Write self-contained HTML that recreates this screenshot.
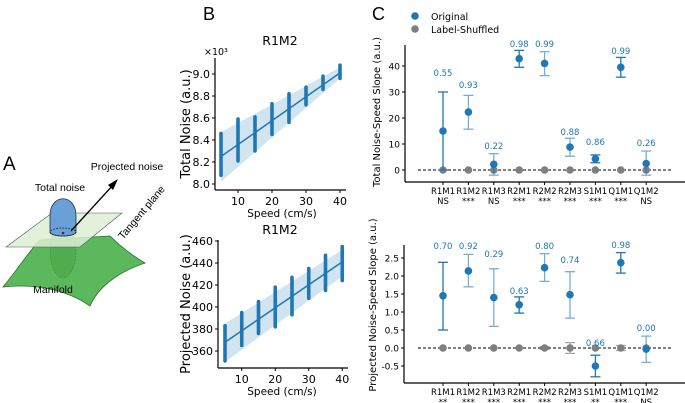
<!DOCTYPE html>
<html><head><meta charset="utf-8"><style>
body{margin:0;background:#fff}
svg{display:block;font-family:"DejaVu Sans","Liberation Sans",sans-serif}
</style></head><body>
<svg id="fig" width="685" height="403" viewBox="0 0 685 403" xmlns="http://www.w3.org/2000/svg">
<!-- Panel A -->
<g font-family="Liberation Sans, sans-serif">
<text x="3" y="170" font-size="19">A</text>
<path d="M3,287 C20,266 30,250 40,240 L110,236 C120,246 133,256 145,263 C118,272 98,287 90,306 C70,292 40,283 3,287 Z" fill="#5cb85c" stroke="#2d6a2d" stroke-width="0.8"/>
<ellipse cx="63" cy="250" rx="13" ry="28" fill="#4aa84a" stroke="#2d6a2d" stroke-width="0.5" stroke-dasharray="2,1" opacity="0.7"/>
<polygon points="52,213 122,213 80,247 6,247" fill="#dcefd3" fill-opacity="0.85" stroke="#555" stroke-width="0.6"/>
<path d="M50,232 L50,216 C50,193 76,193 76,216 L76,232 A13,4 0 0 1 50,232 Z" fill="#6a9fd8" stroke="#234" stroke-width="0.8"/>
<ellipse cx="63" cy="232" rx="13" ry="4" fill="none" stroke="#111" stroke-width="0.8" stroke-dasharray="1.5,1.5"/>
<circle cx="63" cy="233" r="1.3" fill="#333"/>
<line x1="71" y1="231" x2="114" y2="184" stroke="#000" stroke-width="1.3"/>
<polygon points="118,179 108,185 113,190" fill="#000"/>
<text x="60" y="191" font-size="10.5" text-anchor="middle">Total noise</text>
<text x="127" y="170" font-size="10.5" text-anchor="middle">Projected noise</text>
<text x="0" y="0" font-size="10.5" transform="translate(123,240) rotate(-50)">Tangent plane</text>
<text x="53" y="293" font-size="10.5" text-anchor="middle">Manifold</text>
</g>
<text x="203" y="20" font-size="18" font-family="Liberation Sans, sans-serif">B</text>
<text x="372" y="20" font-size="18" font-family="Liberation Sans, sans-serif">C</text>
<g id="gB1"></g>
<g id="gB2"></g>
<g id="gC1"></g>
<g id="gC2"></g>
</svg>
<script>
const NS="http://www.w3.org/2000/svg";
function mk(parent,tag,attrs,text){const e=document.createElementNS(NS,tag);for(const k in attrs)e.setAttribute(k,attrs[k]);if(text!==undefined)e.textContent=text;parent.appendChild(e);return e;}
const BLUE="#1f77b4", GRAY="#7f7f7f";

// ---- Panel B data ----
const speeds=[5,10,15,20,25,30,35,40];
const totalMin=[8.08,8.21,8.30,8.45,8.56,8.72,8.86,8.96];
const totalMax=[8.46,8.59,8.61,8.73,8.82,8.88,8.98,9.08];
const totalFit=[8.25,9.01];
const totalBandLow=[8.02,8.96];
const totalBandHigh=[8.47,9.06];
const totalTicks=[8.0,8.2,8.4,8.6,8.8,9.0];
const projMin=[351,365,376,382,393,408,415,424];
const projMax=[383,395,405,418,427,435,447,455];
const projFit=[368,441];
const projBandLow=[350,428];
const projBandHigh=[385,452];
const projTicks=[360,380,400,420,440,460];
const speedTicks=[10,20,30,40];

function scatterPanel(g,cfg){
  const xs=v=>cfg.x0+(v-5)*cfg.xk;
  const ys=v=>cfg.y0-(v-cfg.v0)*cfg.yk;
  const sx=speeds[0], ex=speeds[speeds.length-1];
  let band=mk(g,'polygon',{points:`${xs(sx)},${ys(cfg.bl[0])} ${xs(ex)},${ys(cfg.bl[1])} ${xs(ex)},${ys(cfg.bh[1])} ${xs(sx)},${ys(cfg.bh[0])}`,fill:BLUE,'fill-opacity':0.2});
  
  
  speeds.forEach((s,i)=>{
    const r=mk(g,'rect',{x:xs(s)-1.8,y:ys(cfg.mx[i])-1.8,width:3.6,height:ys(cfg.mn[i])-ys(cfg.mx[i])+3.6,rx:1.8,fill:BLUE});
    
    
  });
  const fl=mk(g,'line',{x1:xs(sx),y1:ys(cfg.fit[0]),x2:xs(ex),y2:ys(cfg.fit[1]),stroke:BLUE,'stroke-width':1.5});
  
  
  mk(g,'line',{x1:cfg.sl,y1:cfg.st,x2:cfg.sl,y2:cfg.sb,stroke:'#000','stroke-width':1.2});
  mk(g,'line',{x1:cfg.sl,y1:cfg.sb,x2:cfg.sr,y2:cfg.sb,stroke:'#000','stroke-width':1.2});
  cfg.ticks.forEach(t=>{const y=ys(t);mk(g,'line',{x1:cfg.sl-3,y1:y,x2:cfg.sl,y2:y,stroke:'#000'});
    const tx=mk(g,'text',{x:cfg.sl-5,y:y+4,'font-size':11,'text-anchor':'end'},cfg.fmt(t));
    
    });
  speedTicks.forEach(t=>{const x=xs(t);mk(g,'line',{x1:x,y1:cfg.sb,x2:x,y2:cfg.sb+3,stroke:'#000'});
    const tx=mk(g,'text',{x:x,y:cfg.sb+15,'font-size':11,'text-anchor':'middle'},t);
    
    });
  const ti=mk(g,'text',{x:280,y:cfg.ty,'font-size':12.5,'text-anchor':'middle'},'R1M2');
  
  
  const xl=mk(g,'text',{x:282,y:cfg.sb+27,'font-size':10.5,'text-anchor':'middle'},'Speed (cm/s)');
  
  
  const yl=mk(g,'text',{x:0,y:0,'font-size':13,'text-anchor':'middle',transform:`translate(${cfg.ylx},${(cfg.st+cfg.sb)/2}) rotate(-90)`},cfg.ylabel);
  
  
}
scatterPanel(document.getElementById('gB1'),{x0:221,xk:3.4,y0:184,v0:8.0,yk:110,mn:totalMin,mx:totalMax,fit:totalFit,bl:totalBandLow,bh:totalBandHigh,ticks:totalTicks,fmt:t=>t.toFixed(1),sl:215,sr:346,st:58,sb:190,ty:45,ylx:190,ylabel:'Total Noise (a.u.)'});
scatterPanel(document.getElementById('gB2'),{x0:225,xk:3.35,y0:351,v0:360,yk:1.1,mn:projMin,mx:projMax,fit:projFit,bl:projBandLow,bh:projBandHigh,ticks:projTicks,fmt:t=>t,sl:218,sr:348,st:240,sb:368,ty:234,ylx:190,ylabel:'Projected Noise (a.u.)'});
const sci=mk(document.getElementById('gB1'),'text',{x:204,y:55,'font-size':9.5},'×10³');



// ---- Panel C data ----
const cats=['R1M1','R1M2','R1M3','R2M1','R2M2','R2M3','S1M1','Q1M1','Q1M2'];
const totMean=[15,22.3,2.2,42.8,41,8.8,4.3,39.5,2.5];
const totLo=[0,15.7,-2,39.5,36.3,5.3,2.8,35.7,-2];
const totHi=[30,28.7,6.3,46,45.5,12.2,5.8,43.3,7.3];
const totR=['0.55','0.93','0.22','0.98','0.99','0.88','0.86','0.99','0.26'];
const totRY=[37.3,32.7,9.2,48.5,48.5,14.6,10.8,45.8,10.4];
const totSig=['NS','***','NS','***','***','***','***','***','NS'];
const totShufMean=[0,0,0,0,0,0,0,0,0];
const totShufErr=[0,0,0,0,0,0,0,0,0];
const totTicks=[0,10,20,30,40];
const projMean=[1.45,2.14,1.4,1.2,2.23,1.48,-0.5,2.37,-0.03];
const projLo=[0.5,1.7,0.6,0.97,1.85,0.83,-0.8,2.08,-0.4];
const projHi=[2.38,2.6,2.2,1.42,2.62,2.12,-0.2,2.65,0.33];
const projR=['0.70','0.92','0.29','0.63','0.80','0.74','0.66','0.98','0.00'];
const projRY=[2.83,2.83,2.61,1.58,2.83,2.44,0.14,2.86,0.56];
const projSig=['**','***','***','***','***','***','**','***','NS'];
const projShufMean=[0,0,0,0,0,0,0,0,0];
const projShufErr=[0,0,0,0,0.04,0.15,0,0.07,0];
const projSlopeTicks=[-0.5,0,0.5,1.0,1.5,2.0,2.5];
const errAlpha=[1,0.6,0.6,1,0.6,0.6,1,1,0.6];

function slopePanel(g,cfg){
  const xs=i=>443+i*25.4;
  const ys=v=>cfg.y0-v*cfg.yk;
  mk(g,'line',{x1:cfg.sl,y1:cfg.st,x2:cfg.sl,y2:cfg.sb,stroke:'#000','stroke-width':1.2});
  mk(g,'line',{x1:cfg.sl,y1:cfg.sb,x2:685,y2:cfg.sb,stroke:'#000','stroke-width':1.2});
  const dl=mk(g,'line',{x1:418,y1:ys(0),x2:672,y2:ys(0),stroke:'#000','stroke-width':0.9,'stroke-dasharray':'3,2'});
  
  
  cfg.ticks.forEach(t=>{const y=ys(t);mk(g,'line',{x1:cfg.sl-3,y1:y,x2:cfg.sl,y2:y,stroke:'#000'});
    const tx=mk(g,'text',{x:cfg.sl-5,y:y+3.5,'font-size':9,'text-anchor':'end'},cfg.fmt(t));
    
    });
  cats.forEach((c,i)=>{
    const x=xs(i);
    mk(g,'line',{x1:x,y1:cfg.sb,x2:x,y2:cfg.sb+3,stroke:'#000'});
    const cl=mk(g,'text',{x:x,y:cfg.sb+12,'font-size':8.5,'text-anchor':'middle'},c);
    
    
    const sg=mk(g,'text',{x:x,y:cfg.sb+22,'font-size':8.5,'text-anchor':'middle'},cfg.sig[i]);
    
    
    const se=cfg.sErr[i];
    if(se>0){const eg=mk(g,'g',{stroke:GRAY,'stroke-width':1.2,opacity:0.7});
      mk(eg,'line',{x1:x,y1:ys(cfg.sMean[i]-se),x2:x,y2:ys(cfg.sMean[i]+se)});
      mk(eg,'line',{x1:x-5,y1:ys(cfg.sMean[i]-se),x2:x+5,y2:ys(cfg.sMean[i]-se)});
      mk(eg,'line',{x1:x-5,y1:ys(cfg.sMean[i]+se),x2:x+5,y2:ys(cfg.sMean[i]+se)});}
    const sd=mk(g,'circle',{cx:x,cy:ys(cfg.sMean[i]),r:3.8,fill:GRAY});
    
    
    const eb=mk(g,'g',{stroke:BLUE,'stroke-width':1.3,opacity:errAlpha[i]});
    
    
    mk(eb,'line',{x1:x,y1:ys(cfg.lo[i]),x2:x,y2:ys(cfg.hi[i])});
    mk(eb,'line',{x1:x-5,y1:ys(cfg.lo[i]),x2:x+5,y2:ys(cfg.lo[i])});
    mk(eb,'line',{x1:x-5,y1:ys(cfg.hi[i]),x2:x+5,y2:ys(cfg.hi[i])});
    const od=mk(g,'circle',{cx:x,cy:ys(cfg.mean[i]),r:3.8,fill:BLUE});
    
    
    const rl=mk(g,'text',{x:x,y:ys(cfg.ry[i])+3,'font-size':8.5,'text-anchor':'middle',fill:BLUE},cfg.r[i]);
    
    
  });
  const yl=mk(g,'text',{x:0,y:0,'font-size':10,'text-anchor':'middle',transform:`translate(${cfg.ylx},${cfg.yly}) rotate(-90)`},cfg.ylabel);
  
  
}
slopePanel(document.getElementById('gC1'),{y0:170,yk:2.6,sl:405,st:45,sb:182,ticks:totTicks,fmt:t=>t,mean:totMean,lo:totLo,hi:totHi,r:totR,ry:totRY,sig:totSig,sMean:totShufMean,sErr:totShufErr,ylx:380,yly:112,ylabel:'Total Noise-Speed Slope (a.u.)'});
slopePanel(document.getElementById('gC2'),{y0:348,yk:36,sl:404,st:245,sb:383,ticks:projSlopeTicks,fmt:t=>t.toFixed(1),mean:projMean,lo:projLo,hi:projHi,r:projR,ry:projRY,sig:projSig,sMean:projShufMean,sErr:projShufErr,ylx:376,yly:305,ylabel:'Projected Noise-Speed Slope (a.u.)'});
const lg=mk(document.getElementById('gC1'),'g',{});


mk(lg,'circle',{cx:415,cy:16,r:3.8,fill:BLUE});
const l1=mk(lg,'text',{x:431,y:20,'font-size':9.5},'Original');


mk(lg,'circle',{cx:415,cy:29,r:3.8,fill:GRAY});
const l2=mk(lg,'text',{x:431,y:33,'font-size':9.5},'Label-Shuffled');


</script>
</body></html>
